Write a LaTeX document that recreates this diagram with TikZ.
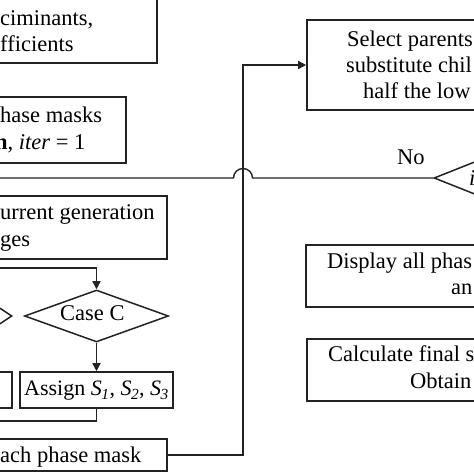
\documentclass[tikz,border=0pt]{standalone}
\usepackage{fontspec}
\setmainfont{Liberation Serif}
\usetikzlibrary{arrows.meta,shapes.geometric}
\definecolor{ink}{RGB}{35,35,35}
\tikzset{
  box/.style={draw=ink, line width=1.6pt, rectangle, inner sep=0pt},
  dia/.style={draw=ink, line width=1.5pt, diamond, inner sep=0pt},
  txt/.style={inner sep=0pt, anchor=base west, font=\fontsize{22.5}{27}\selectfont, text=black},
  conn/.style={draw=ink, line width=1.4pt},
  arr/.style={conn, -{Triangle[length=8pt,width=8pt]}}
}
\begin{document}
\begin{tikzpicture}[x=1pt,y=1pt]
\useasboundingbox (0,0) rectangle (474,474);
\clip (0,0) rectangle (474,474);
\fill[white] (0,0) rectangle (474,474);
% boxes
\node[box, minimum width=167pt, minimum height=73pt] (b1) at (73.5,447.5) {};
\node[box, minimum width=136pt, minimum height=66pt] (b2) at (58,344) {};
\node[box, minimum width=177pt, minimum height=63pt] (b3) at (78.5,246.5) {};
\node[box, minimum width=22pt, minimum height=36pt] (lbox) at (1,84) {};
\node[box, minimum width=153pt, minimum height=36pt] (assign) at (96.5,84) {};
\node[box, minimum width=177pt, minimum height=32pt] (bottom) at (78.5,19) {};
\node[box, minimum width=193pt, minimum height=90pt] (select) at (403.5,409) {};
\node[box, minimum width=194pt, minimum height=62pt] (display) at (403,198) {};
\node[box, minimum width=193pt, minimum height=62pt] (calc) at (403.5,104) {};
\node[dia, minimum width=144pt, minimum height=52pt] (caseC) at (96.5,158) {};
\node[dia, minimum width=78pt, minimum height=52pt] (ldia) at (-27,158) {};
\node[dia, minimum width=150pt, minimum height=60pt] (rdia) at (509,296) {};
% texts
\node[txt] (t1a) at (0,448) {ciminants,};
\node[txt] (t1b) at (0,422) {fficients};
\node[txt] (t2a) at (0,351) {hase masks};
\node[txt] (t2b) at (-5,324) {\textbf{n}, \textit{iter} = 1};
\node[txt] (t3a) at (0,254) {urrent generation};
\node[txt] (t3b) at (0,227) {ges};
\node[txt] (tc) at (60,153) {Case C};
\node[txt, font=\fontsize{22}{27}\selectfont] (ta) at (24,78) {Assign \textit{S}\kern-0.5pt\textsubscript{\textit{1}}, \textit{S}\kern-0.5pt\textsubscript{\textit{2}}, \textit{S}\kern-0.5pt\textsubscript{\textit{3}}};
\node[txt] (tb) at (0,12) {ach phase mask};
\node[txt] (ts1) at (347,427) {Select parents};
\node[txt] (ts2) at (346,401) {substitute chil};
\node[txt] (ts3) at (363,375) {half the low};
\node[txt] (tno) at (397,309) {No};
\node[txt] (td1) at (327,205) {Display all phas};
\node[txt] (td2) at (451,179) {an};
\node[txt] (tk1) at (328,112) {Calculate final s};
\node[txt] (tk2) at (410,85) {Obtain};
\node[txt] (tr) at (469,288) {\textit{iter}};
% connectors
\coordinate (vx) at (243,19);
\draw[arr] (bottom.east) -- (vx) |- (select.west);
\coordinate (noend) at (-5,296);
\draw[conn] (rdia.west) -- (252.5,296) arc (0:180:9.5) -- (noend);
\coordinate (l1) at (-5,206);
\draw[arr] (l1) -| (caseC.north);
\draw[arr] (caseC.south) -- (caseC.south |- assign.north);
\coordinate (l2) at (-5,53);
\draw[conn] (assign.south) |- (l2);
\end{tikzpicture}
\end{document}
